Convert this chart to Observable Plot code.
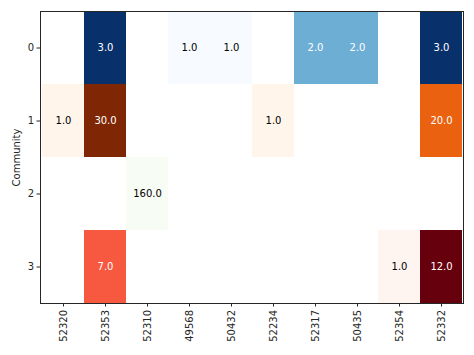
<!DOCTYPE html>
<html>
<head>
<meta charset="utf-8">
<script src="https://cdn.jsdelivr.net/npm/d3@7"></script>
<script src="https://cdn.jsdelivr.net/npm/@observablehq/plot@0.6"></script>
<style>
  html, body { margin: 0; padding: 0; background: #fff; }
  #chart { width: 474px; height: 355px; }
</style>
</head>
<body>
<div id="chart"></div>
<script>
const columns = ["52320","52353","52310","49568","50432","52234","52317","50435","52354","52332"];
const communities = [0, 1, 2, 3];
const row0 = [null, 3, null, 1, 1, null, 2, 2, null, 3];
const row1 = [1, 30, null, null, null, 1, null, null, null, 20];
const row2 = [null, null, 160, null, null, null, null, null, null, null];
const row3 = [null, 7, null, null, null, null, null, null, 1, 12];
const rows = [row0, row1, row2, row3];
const schemes = [d3.interpolateBlues, d3.interpolateOranges, d3.interpolateGreens, d3.interpolateReds];

const data = [];
rows.forEach((vals, r) => {
  const present = vals.filter(v => v != null);
  const lo = d3.min(present), hi = d3.max(present);
  vals.forEach((v, c) => {
    if (v == null) return;
    const t = hi > lo ? (v - lo) / (hi - lo) : 0;
    data.push({community: communities[r], col: columns[c], value: v, t, color: schemes[r](t)});
  });
});

const chart = Plot.plot({
  width: 474,
  height: 355,
  marginLeft: 40,
  marginTop: 11,
  marginRight: 11,
  marginBottom: 52,
  style: {fontFamily: "DejaVu Sans", fontSize: "10px", color: "#262626", background: "#fff"},
  x: {type: "band", domain: columns, padding: 0, label: null, tickRotate: -90, tickSize: 3.5, tickPadding: 3},
  y: {type: "band", domain: communities, padding: 0, label: "Community", labelAnchor: "center", labelArrow: "none", labelOffset: 28, tickSize: 3.5, tickPadding: 3},
  marks: [
    Plot.cell(data, {x: "col", y: "community", fill: d => d.color, inset: 0}),
    Plot.text(data, {x: "col", y: "community", text: d => d.value.toFixed(1), fill: d => d.t > 0.4 ? "#ffffff" : "#000000", fontSize: 10}),
    Plot.frame({stroke: "#262626", strokeWidth: 1})
  ]
});
document.getElementById("chart").appendChild(chart);
</script>
</body>
</html>
